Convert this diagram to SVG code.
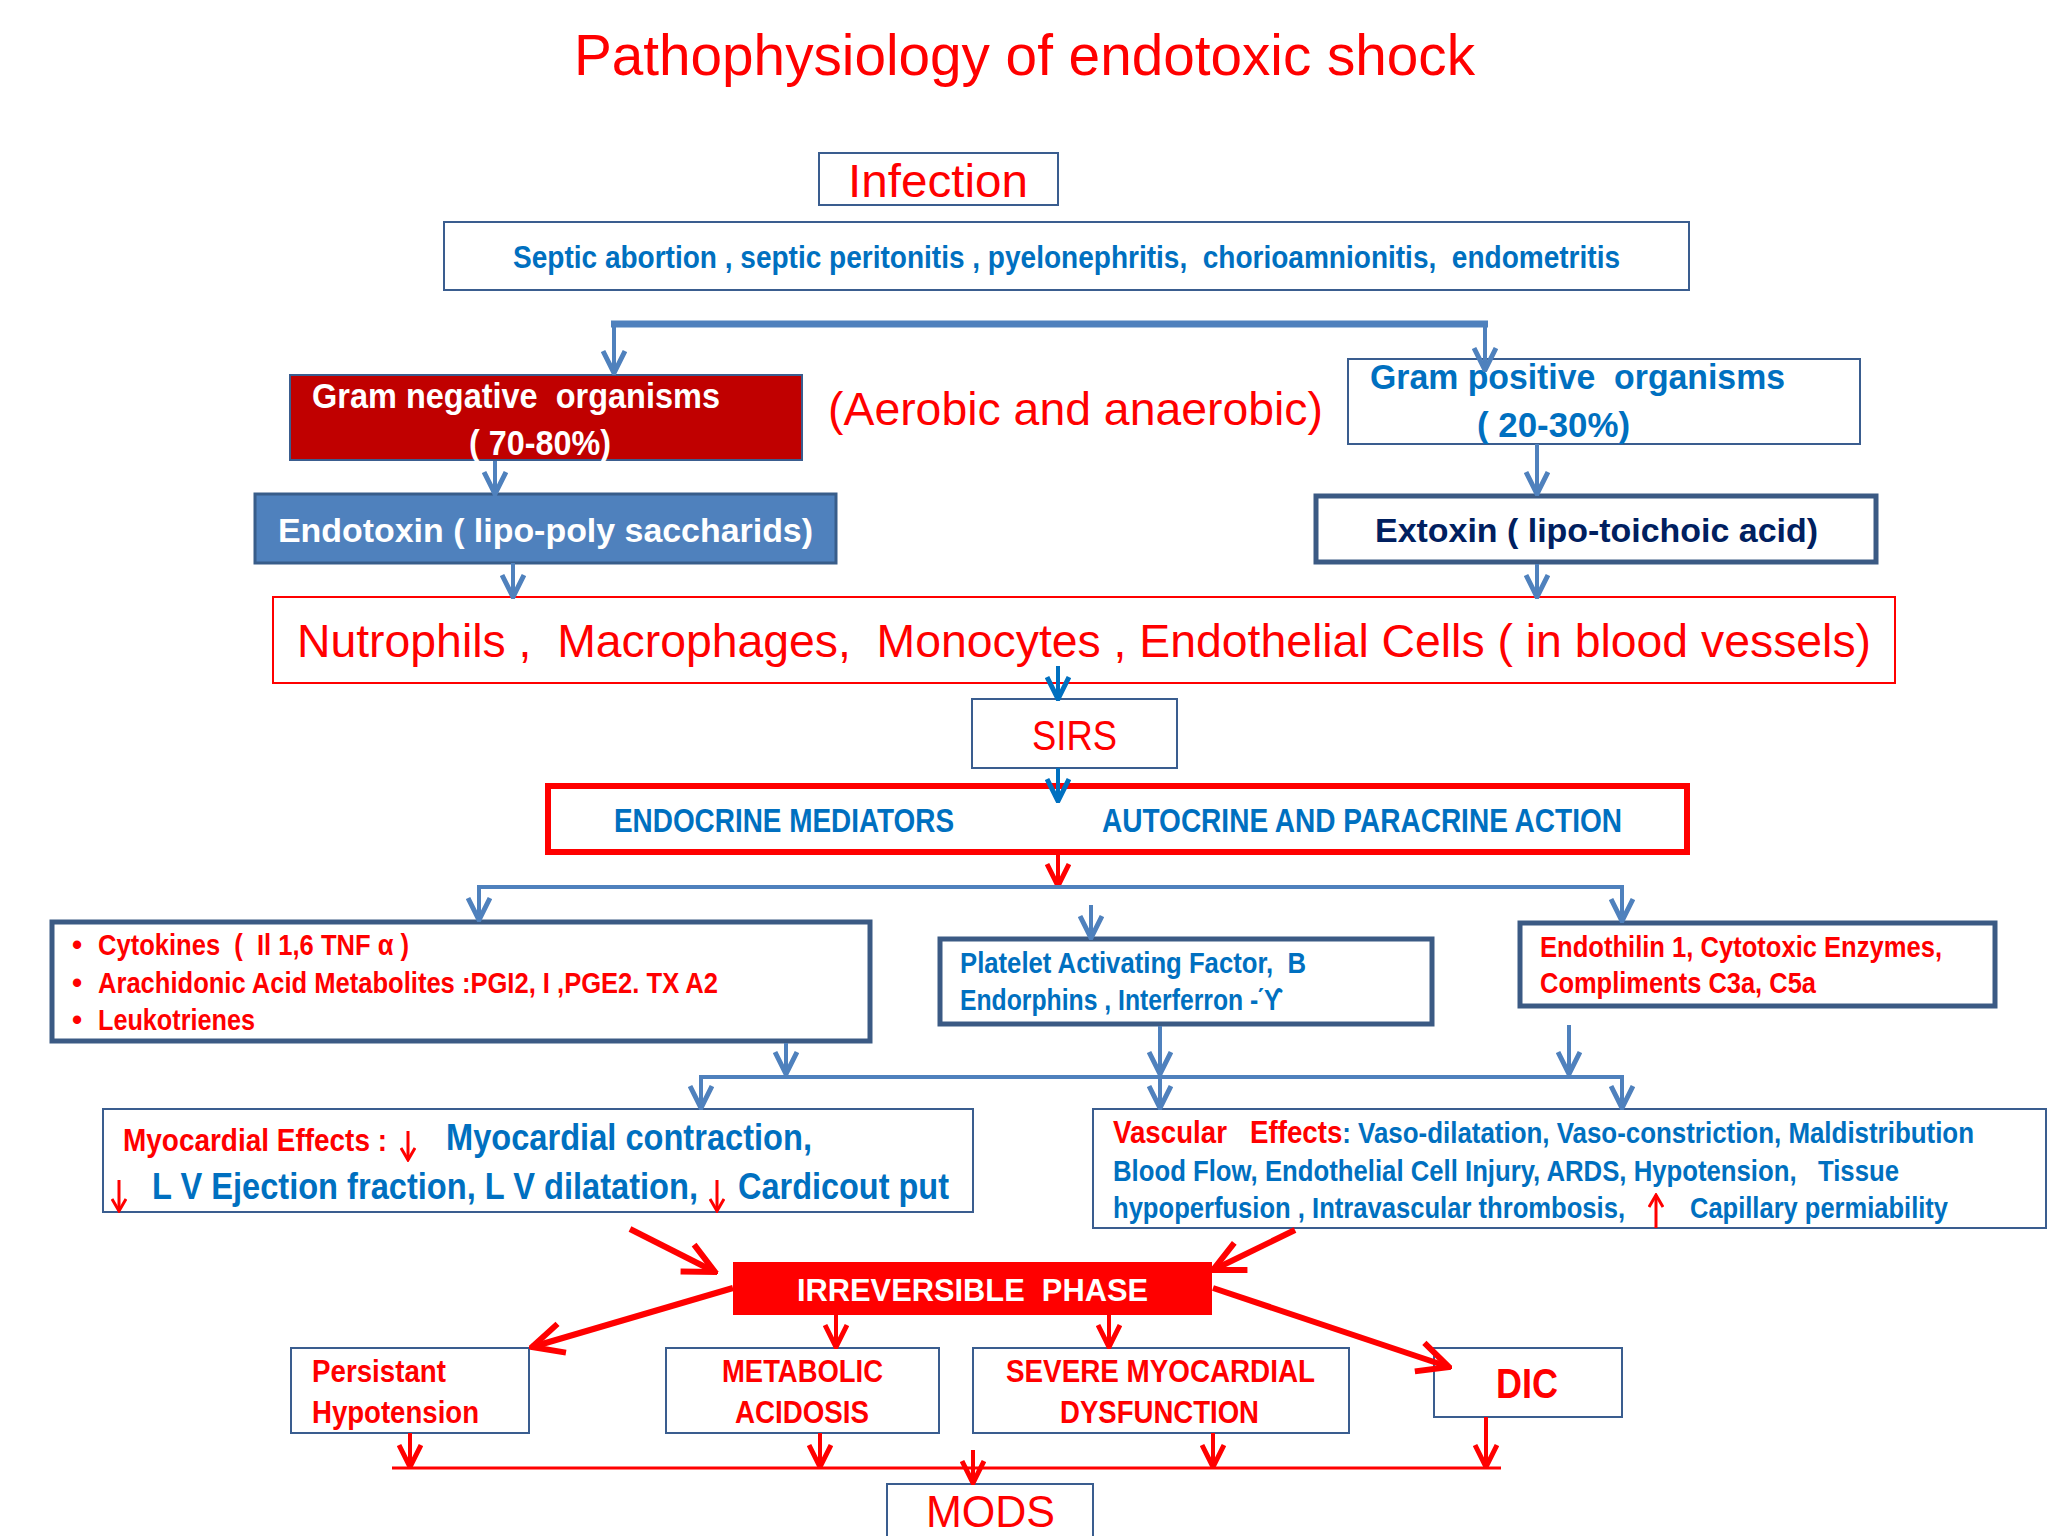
<svg xmlns="http://www.w3.org/2000/svg" width="2048" height="1536" viewBox="0 0 2048 1536">
<defs>
<style>
.bx{fill:#fff;stroke:#3A5D8F;stroke-width:2}
.bxk{fill:#fff;stroke:#3B5A84;stroke-width:5}
.cal{font-family:"Liberation Sans","DejaVu Sans",sans-serif;font-weight:normal}
.nb{font-family:"Liberation Sans Narrow","Liberation Sans","DejaVu Sans",sans-serif;font-weight:bold}
.red{fill:#FF0000}
.blu{fill:#0070C0}
.wht{fill:#FFFFFF}
.cb{fill:none;stroke:#4F81BD;stroke-width:4}
.cbus{fill:none;stroke:#4F81BD;stroke-width:7}
.cbb{fill:none;stroke:#0070C0;stroke-width:4}
.cr{fill:none;stroke:#FF0000;stroke-width:4}
.crt{fill:none;stroke:#FF0000;stroke-width:6}
.crs{fill:none;stroke:#FF0000;stroke-width:3}
</style>
<marker id="ab" markerUnits="userSpaceOnUse" viewBox="0 0 26 26" markerWidth="26" markerHeight="26" refX="24" refY="13" orient="auto"><path d="M2,2 L24,13 L2,24" fill="none" stroke="#4F81BD" stroke-width="5"/></marker>
<marker id="ab2" markerUnits="userSpaceOnUse" viewBox="0 0 26 26" markerWidth="26" markerHeight="26" refX="24" refY="13" orient="auto"><path d="M2,2 L24,13 L2,24" fill="none" stroke="#0070C0" stroke-width="5"/></marker>
<marker id="ar" markerUnits="userSpaceOnUse" viewBox="0 0 26 26" markerWidth="26" markerHeight="26" refX="24" refY="13" orient="auto"><path d="M2,2 L24,13 L2,24" fill="none" stroke="#FF0000" stroke-width="5"/></marker>
<marker id="arL" markerUnits="userSpaceOnUse" viewBox="0 0 36 36" markerWidth="36" markerHeight="36" refX="33" refY="18" orient="auto"><path d="M2,3 L33,18 L2,33" fill="none" stroke="#FF0000" stroke-width="6"/></marker>
<marker id="ars" markerUnits="userSpaceOnUse" viewBox="0 0 16 16" markerWidth="16" markerHeight="16" refX="14" refY="8" orient="auto"><path d="M2,1 L14,8 L2,15" fill="none" stroke="#FF0000" stroke-width="3"/></marker>
</defs>
<rect width="2048" height="1536" fill="#FFFFFF"/>

<g id="title"><text class="cal red" x="574" y="75" font-size="58" textLength="901" lengthAdjust="spacingAndGlyphs">Pathophysiology of endotoxic shock</text></g>

<g id="infection"><rect class="bx" x="819" y="153" width="239" height="52"/>
<text class="cal red" x="848" y="197" font-size="47" textLength="180" lengthAdjust="spacingAndGlyphs">Infection</text></g>

<g id="sources"><rect class="bx" x="444" y="222" width="1245" height="68"/>
<text class="nb blu" x="513" y="268" font-size="31" textLength="1107" lengthAdjust="spacingAndGlyphs" xml:space="preserve">Septic abortion , septic peritonitis , pyelonephritis,  chorioamnionitis,  endometritis</text></g>

<g id="gram-negative"><rect x="290" y="375" width="512" height="85" fill="#C00000" stroke="#3A5D8F" stroke-width="2"/>
<text class="nb wht" x="312" y="408" font-size="35" textLength="408" lengthAdjust="spacingAndGlyphs" xml:space="preserve">Gram negative  organisms</text>
<text class="nb wht" x="469" y="455" font-size="35" textLength="142" lengthAdjust="spacingAndGlyphs">( 70-80%)</text></g>

<g id="aerobic"><text class="cal red" x="828" y="425" font-size="46" textLength="495" lengthAdjust="spacingAndGlyphs">(Aerobic and anaerobic)</text></g>

<g id="gram-positive"><rect class="bx" x="1348" y="359" width="512" height="85"/>
<text class="nb blu" x="1370" y="389" font-size="35" textLength="415" lengthAdjust="spacingAndGlyphs" xml:space="preserve">Gram positive  organisms</text>
<text class="nb blu" x="1477" y="437" font-size="35" textLength="153" lengthAdjust="spacingAndGlyphs">( 20-30%)</text></g>

<g id="endotoxin"><rect x="255" y="494" width="581" height="69" fill="#4F81BD" stroke="#385D8A" stroke-width="3"/>
<text class="nb wht" x="278" y="542" font-size="34" textLength="535" lengthAdjust="spacingAndGlyphs">Endotoxin ( lipo-poly saccharids)</text></g>

<g id="extoxin"><rect class="bxk" x="1316" y="496" width="560" height="66"/>
<text class="nb" fill="#002060" x="1375" y="542" font-size="34" textLength="443" lengthAdjust="spacingAndGlyphs">Extoxin ( lipo-toichoic acid)</text></g>

<g id="cells"><rect x="273" y="597" width="1622" height="86" fill="#fff" stroke="#FF0000" stroke-width="2"/>
<text class="cal red" x="297" y="657" font-size="47" textLength="1574" lengthAdjust="spacingAndGlyphs" xml:space="preserve">Nutrophils ,  Macrophages,  Monocytes , Endothelial Cells ( in blood vessels)</text></g>

<g id="sirs"><rect class="bx" x="972" y="699" width="205" height="69"/>
<text class="cal red" x="1032" y="750" font-size="43" textLength="85" lengthAdjust="spacingAndGlyphs">SIRS</text></g>

<g id="mediators"><rect x="548" y="786" width="1139" height="66" fill="#fff" stroke="#FF0000" stroke-width="6"/>
<text class="nb blu" x="614" y="832" font-size="33" textLength="340" lengthAdjust="spacingAndGlyphs">ENDOCRINE MEDIATORS</text>
<text class="nb blu" x="1102" y="832" font-size="33" textLength="520" lengthAdjust="spacingAndGlyphs">AUTOCRINE AND PARACRINE ACTION</text></g>

<g id="cytokines"><rect class="bxk" x="52" y="922" width="818" height="119"/>
<g class="nb red" font-size="29">
<text x="72" y="955">•</text><text x="98" y="955" textLength="311" lengthAdjust="spacingAndGlyphs" xml:space="preserve">Cytokines  (  Il 1,6 TNF α )</text>
<text x="72" y="993">•</text><text x="98" y="993" textLength="620" lengthAdjust="spacingAndGlyphs">Arachidonic Acid Metabolites :PGI2, I ,PGE2. TX A2</text>
<text x="72" y="1030">•</text><text x="98" y="1030" textLength="157" lengthAdjust="spacingAndGlyphs">Leukotrienes</text>
</g></g>

<g id="platelet"><rect class="bxk" x="940" y="939" width="492" height="85"/>
<g class="nb blu" font-size="29">
<text x="960" y="973" textLength="346" lengthAdjust="spacingAndGlyphs" xml:space="preserve">Platelet Activating Factor,  B</text>
<text x="960" y="1010" textLength="323" lengthAdjust="spacingAndGlyphs">Endorphins , Interferron -ϓ</text>
</g></g>

<g id="endothilin"><rect class="bxk" x="1520" y="923" width="475" height="83"/>
<g class="nb red" font-size="29">
<text x="1540" y="957" textLength="402" lengthAdjust="spacingAndGlyphs">Endothilin 1, Cytotoxic Enzymes,</text>
<text x="1540" y="993" textLength="276" lengthAdjust="spacingAndGlyphs">Compliments C3a, C5a</text>
</g></g>

<g id="myocardial"><rect class="bx" x="103" y="1109" width="870" height="103"/>
<text class="nb red" x="123" y="1151" font-size="31" textLength="264" lengthAdjust="spacingAndGlyphs">Myocardial Effects :</text>
<line class="crs" x1="408" y1="1131" x2="408" y2="1160" marker-end="url(#ars)"/>
<text class="nb blu" x="446" y="1150" font-size="36" textLength="366" lengthAdjust="spacingAndGlyphs">Myocardial contraction,</text>
<line class="crs" x1="119" y1="1180" x2="119" y2="1211" marker-end="url(#ars)"/>
<text class="nb blu" x="152" y="1199" font-size="36" textLength="546" lengthAdjust="spacingAndGlyphs">L V Ejection fraction, L V dilatation,</text>
<line class="crs" x1="717" y1="1180" x2="717" y2="1211" marker-end="url(#ars)"/>
<text class="nb blu" x="738" y="1199" font-size="36" textLength="211" lengthAdjust="spacingAndGlyphs">Cardicout put</text></g>

<g id="vascular"><rect class="bx" x="1093" y="1109" width="953" height="119"/>
<text class="nb" x="1113" y="1143" font-size="29" textLength="861" lengthAdjust="spacingAndGlyphs" xml:space="preserve"><tspan class="red" font-size="31">Vascular   Effects</tspan><tspan class="blu">: Vaso-dilatation, Vaso-constriction, Maldistribution</tspan></text>
<text class="nb blu" x="1113" y="1181" font-size="29" textLength="786" lengthAdjust="spacingAndGlyphs" xml:space="preserve">Blood Flow, Endothelial Cell Injury, ARDS, Hypotension,   Tissue</text>
<text class="nb blu" x="1113" y="1218" font-size="29" textLength="512" lengthAdjust="spacingAndGlyphs">hypoperfusion , Intravascular thrombosis,</text>
<line class="crs" x1="1656" y1="1228" x2="1656" y2="1195" marker-end="url(#ars)"/>
<text class="nb blu" x="1690" y="1218" font-size="29" textLength="258" lengthAdjust="spacingAndGlyphs">Capillary permiability</text></g>

<g id="irreversible"><rect x="733" y="1262" width="479" height="53" fill="#FF0000"/>
<text class="nb wht" x="797" y="1301" font-size="32" textLength="351" lengthAdjust="spacingAndGlyphs" xml:space="preserve">IRREVERSIBLE  PHASE</text></g>

<g id="persistant"><rect class="bx" x="291" y="1348" width="238" height="85"/>
<text class="nb red" x="312" y="1382" font-size="31" textLength="134" lengthAdjust="spacingAndGlyphs">Persistant</text>
<text class="nb red" x="312" y="1423" font-size="31" textLength="167" lengthAdjust="spacingAndGlyphs">Hypotension</text></g>

<g id="metabolic"><rect class="bx" x="666" y="1348" width="273" height="85"/>
<text class="nb red" x="722" y="1382" font-size="31" textLength="161" lengthAdjust="spacingAndGlyphs">METABOLIC</text>
<text class="nb red" x="735" y="1423" font-size="31" textLength="134" lengthAdjust="spacingAndGlyphs">ACIDOSIS</text></g>

<g id="severe"><rect class="bx" x="973" y="1348" width="376" height="85"/>
<text class="nb red" x="1006" y="1382" font-size="31" textLength="309" lengthAdjust="spacingAndGlyphs">SEVERE MYOCARDIAL</text>
<text class="nb red" x="1060" y="1423" font-size="31" textLength="199" lengthAdjust="spacingAndGlyphs">DYSFUNCTION</text></g>

<g id="dic"><rect class="bx" x="1434" y="1348" width="188" height="69"/>
<text class="nb red" x="1496" y="1398" font-size="42" textLength="62" lengthAdjust="spacingAndGlyphs">DIC</text></g>

<g id="mods"><rect class="bx" x="887" y="1484" width="206" height="60"/>
<text class="cal red" x="926" y="1527" font-size="44" textLength="129" lengthAdjust="spacingAndGlyphs">MODS</text></g>

<g id="connectors">
<line class="cbus" x1="611" y1="324" x2="1488" y2="324"/>
<line class="cb" x1="614" y1="324" x2="614" y2="373" marker-end="url(#ab)"/>
<line class="cb" x1="1485" y1="324" x2="1485" y2="370" marker-end="url(#ab)"/>
<line class="cb" x1="495" y1="461" x2="495" y2="494" marker-end="url(#ab)"/>
<line class="cb" x1="513" y1="563" x2="513" y2="597" marker-end="url(#ab)"/>
<line class="cb" x1="1537" y1="444" x2="1537" y2="494" marker-end="url(#ab)"/>
<line class="cb" x1="1537" y1="564" x2="1537" y2="597" marker-end="url(#ab)"/>
<line class="cbb" x1="1058" y1="666" x2="1058" y2="699" marker-end="url(#ab2)"/>
<line class="cbb" x1="1058" y1="768" x2="1058" y2="801" marker-end="url(#ab2)"/>
<line class="cr" x1="1058" y1="855" x2="1058" y2="886" marker-end="url(#ar)"/>
<line class="cb" x1="477" y1="887" x2="1624" y2="887" stroke-width="6"/>
<line class="cb" x1="479" y1="887" x2="479" y2="920" marker-end="url(#ab)"/>
<line class="cb" x1="1622" y1="887" x2="1622" y2="921" marker-end="url(#ab)"/>
<line class="cb" x1="1091" y1="905" x2="1091" y2="938" marker-end="url(#ab)"/>
<line class="cb" x1="786" y1="1043" x2="786" y2="1074" marker-end="url(#ab)"/>
<line class="cb" x1="1160" y1="1026" x2="1160" y2="1074" marker-end="url(#ab)"/>
<line class="cb" x1="1569" y1="1025" x2="1569" y2="1074" marker-end="url(#ab)"/>
<line class="cb" x1="699" y1="1077" x2="1624" y2="1077" stroke-width="6"/>
<line class="cb" x1="701" y1="1077" x2="701" y2="1108" marker-end="url(#ab)"/>
<line class="cb" x1="1160" y1="1077" x2="1160" y2="1108" marker-end="url(#ab)"/>
<line class="cb" x1="1622" y1="1077" x2="1622" y2="1108" marker-end="url(#ab)"/>
<line class="crt" x1="630" y1="1229" x2="715" y2="1272" marker-end="url(#arL)"/>
<line class="crt" x1="1295" y1="1230" x2="1213" y2="1270" marker-end="url(#arL)"/>
<line class="crt" x1="733" y1="1288" x2="532" y2="1347" marker-end="url(#arL)"/>
<line class="cr" x1="836" y1="1315" x2="836" y2="1347" marker-end="url(#ar)"/>
<line class="cr" x1="1109" y1="1315" x2="1109" y2="1347" marker-end="url(#ar)"/>
<line class="crt" x1="1213" y1="1288" x2="1449" y2="1367" marker-end="url(#arL)"/>
<line class="cr" x1="410" y1="1433" x2="410" y2="1467" marker-end="url(#ar)"/>
<line class="cr" x1="820" y1="1433" x2="820" y2="1467" marker-end="url(#ar)"/>
<line class="cr" x1="1213" y1="1433" x2="1213" y2="1467" marker-end="url(#ar)"/>
<line class="cr" x1="1486" y1="1417" x2="1486" y2="1467" marker-end="url(#ar)"/>
<line x1="392" y1="1468" x2="1501" y2="1468" stroke="#FF0000" stroke-width="3"/>
<line class="cr" x1="973" y1="1450" x2="973" y2="1483" marker-end="url(#ar)"/>
</g>
</svg>
